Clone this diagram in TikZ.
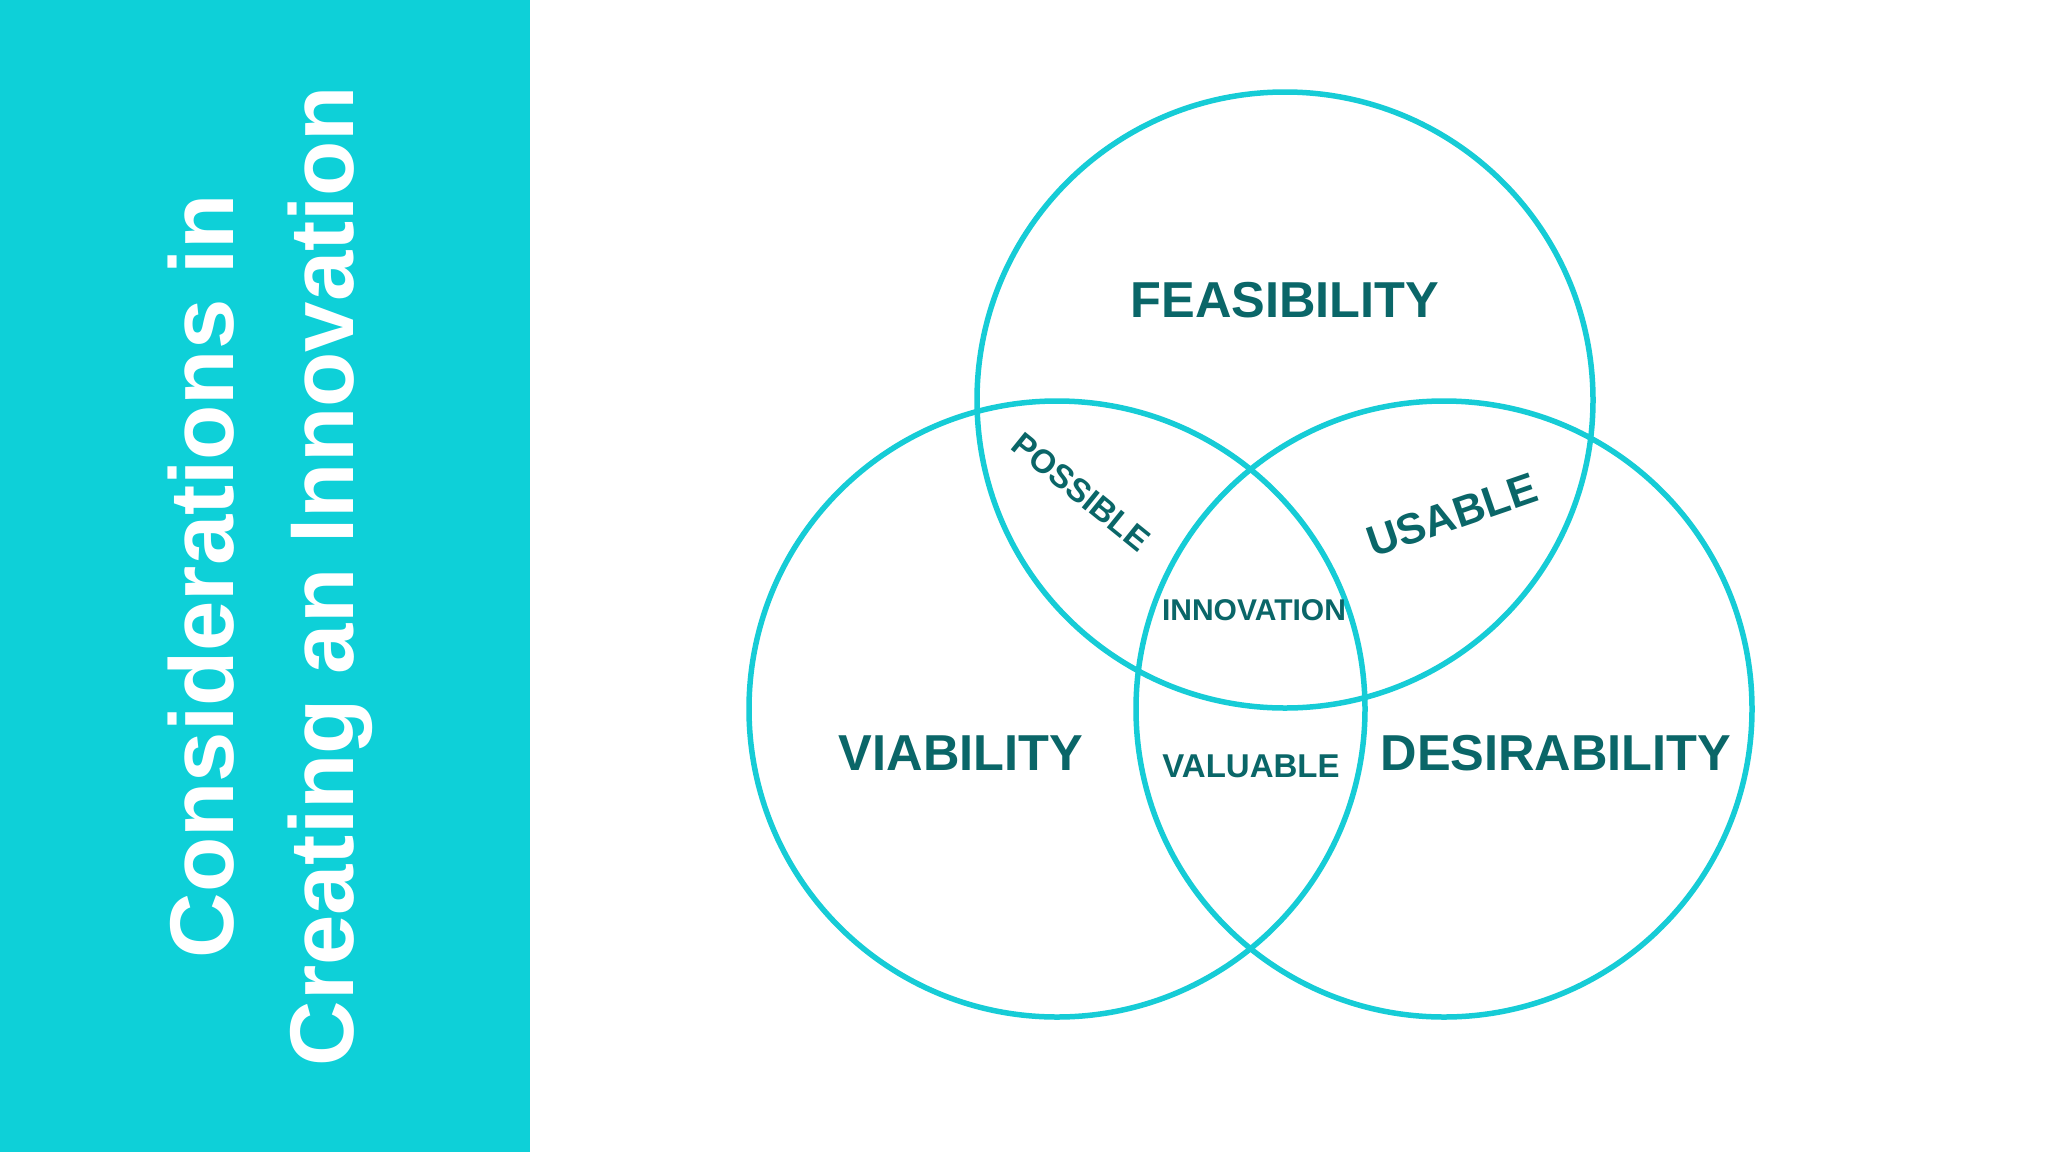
\documentclass[tikz,border=0pt]{standalone}
\usepackage{fontspec}
\setmainfont{Liberation Sans}
\definecolor{panelcyan}{RGB}{14,208,216}
\definecolor{ringcyan}{RGB}{22,204,214}
\definecolor{labelteal}{RGB}{10,102,104}
\tikzset{
  ring/.style={circle, draw=ringcyan, line width=5.5pt, minimum size=616pt, inner sep=0pt},
  biglabel/.style={text=labelteal, inner sep=0pt, anchor=base, font=\fontsize{50.5}{60}\selectfont\bfseries},
  smalllabel/.style={text=labelteal, inner sep=0pt, font=\fontsize{33}{40}\selectfont\bfseries},
  titleline/.style={text=white, inner sep=0pt, anchor=base, rotate=90, font=\fontsize{90.5}{100}\selectfont\bfseries}
}
\begin{document}
\begin{tikzpicture}[x=1pt,y=-1pt]
\useasboundingbox (0,0) rectangle (2048,1152);
\fill[white] (0,0) rectangle (2048,1152);
\fill[panelcyan] (0,0) rectangle (530,1152);
\node[titleline] (t1) at (233,576) {Considerations in};
\node[titleline] (t2) at (353,576) {Creating an Innovation};
\node[ring] (feas) at (1285,400) {};
\node[ring] (viab) at (1057,709) {};
\node[ring] (desi) at (1444,709) {};
\node[biglabel] (lfeas) at (1285,317) {FEASIBILITY};
\node[biglabel] (lviab) at (961,770) {VIABILITY};
\node[biglabel] (ldesi) at (1556,770) {DESIRABILITY};
\node[smalllabel, rotate=-39] (lposs) at (1081,492) {POSSIBLE};
\node[smalllabel, font=\fontsize{43}{50}\selectfont\bfseries, rotate=19] (lusab) at (1452,515) {USABLE};
\node[smalllabel, anchor=base, font=\fontsize{30}{36}\selectfont\bfseries] (linno) at (1254,620) {INNOVATION};
\node[smalllabel, anchor=base] (lvalu) at (1251,777) {VALUABLE};
\end{tikzpicture}
\end{document}
